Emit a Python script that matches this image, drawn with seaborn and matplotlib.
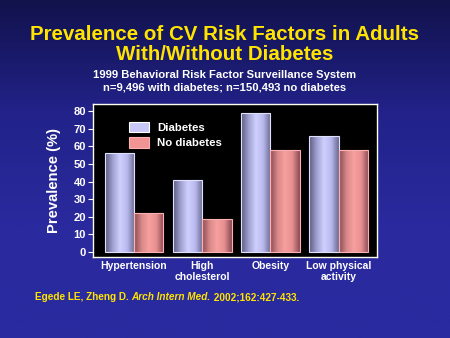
import numpy as np
import pandas as pd
import matplotlib
matplotlib.use("Agg")
import matplotlib.pyplot as plt
import seaborn as sns
from matplotlib.colors import LinearSegmentedColormap
from matplotlib.patches import Patch

categories = ["Hypertension", "High\ncholesterol", "Obesity", "Low physical\nactivity"]
groups = ["Diabetes", "No diabetes"]
diabetes = [56, 41, 79, 66]
no_diabetes = [22, 19, 58, 58]
yticks = [0, 10, 20, 30, 40, 50, 60, 70, 80]

df = pd.DataFrame({
    "category": categories * 2,
    "group": [groups[0]] * 4 + [groups[1]] * 4,
    "value": diabetes + no_diabetes,
})

sns.set_theme(style="white")
plt.rcParams["font.family"] = ["Liberation Sans", "DejaVu Sans"]

W, H = 450, 338
fig = plt.figure(figsize=(W / 100, H / 100), dpi=100)


def fy(py):
    return 1 - py / H


# slide background: dark navy at top fading to royal blue
bg = fig.add_axes([0, 0, 1, 1], zorder=-10)
grad = np.linspace(0, 1, 256)[:, None]
bg_cmap = LinearSegmentedColormap.from_list("bg", ["#12124c", "#22228a", "#2a2a9e", "#2a2aa0"])
bg.imshow(grad, aspect="auto", cmap=bg_cmap, extent=[0, 1, 0, 1], origin="upper")
bg.set_axis_off()

ax = fig.add_axes([93 / W, fy(257), (377 - 93) / W, (257 - 104) / H])
ax.set_facecolor("black")

palette = {"Diabetes": "#c8c8f8", "No diabetes": "#f09494"}
sns.barplot(data=df, x="category", y="value", hue="group", palette=palette,
            width=0.86, ax=ax, edgecolor="none", saturation=1, legend=False)

# cylinder shading on each bar
lav = LinearSegmentedColormap.from_list("lav", ["#5a5a80", "#a0a0d0", "#d0d0ff", "#b8b8ee", "#6a6a90"])
sal = LinearSegmentedColormap.from_list("sal", ["#8a4a55", "#d88888", "#f8a0a0", "#e89090", "#8a4a55"])
prof = np.linspace(0, 1, 64)[None, :]
bars = list(ax.patches)
for i, p in enumerate(bars):
    x0, y0 = p.get_x(), p.get_y()
    w, h = p.get_width(), p.get_height()
    if h <= 0:
        continue
    cmap = lav if i < 4 else sal
    edge = "#e0e0ff" if i < 4 else "#ffb0b0"
    im = ax.imshow(prof, cmap=cmap, aspect="auto", extent=[x0, x0 + w, y0, y0 + h],
                   zorder=3, interpolation="bilinear")
    im.set_clip_path(p)
    p.set_edgecolor(edge)
    p.set_linewidth(0.8)
    p.set_zorder(4)
    p.set_facecolor("none")

ax.set_xlim(-0.6, 3.56)
ax.set_ylim(-2.8, 84)
ax.set_yticks(yticks)
ax.set_yticklabels([str(t) for t in yticks], color="white", fontsize=8, fontweight="bold")
ax.set_xticks(range(4))
ax.set_xticklabels(categories, color="white", fontsize=7.5, fontweight="bold", linespacing=1.12)
ax.tick_params(axis="y", left=True, length=3.5, width=0.8, color="white", pad=1.5)
ax.tick_params(axis="x", bottom=False, length=0, pad=3.2)
ax.set_xlabel("")
ax.set_ylabel("Prevalence (%)", color="white", fontsize=10.6, fontweight="bold", labelpad=9)
for s in ax.spines.values():
    s.set_color("#fffff0")
    s.set_linewidth(1.0)

# legend
handles = [Patch(facecolor="#c8c8f8", edgecolor="#ffffff", linewidth=0.8),
           Patch(facecolor="#f09494", edgecolor="#ffb0b0", linewidth=0.8)]
leg = ax.legend(handles, groups, loc="upper left", bbox_to_anchor=(0.11, 0.915),
                frameon=False, fontsize=8.2, handlelength=1.8, handleheight=1.1,
                labelspacing=0.35, handletextpad=0.7, borderaxespad=0)
for t in leg.get_texts():
    t.set_color("white")
    t.set_fontweight("bold")

# titles and citation
gold = "#ffe400"
fig.text(0.5, fy(39.5), "Prevalence of CV Risk Factors in Adults", ha="center", va="baseline",
         color=gold, fontsize=14.8, fontweight="bold")
fig.text(0.5, fy(60.5), "With/Without Diabetes", ha="center", va="baseline",
         color=gold, fontsize=14.8, fontweight="bold")
fig.text(0.5, fy(78.5), "1999 Behavioral Risk Factor Surveillance System", ha="center",
         va="baseline", color="white", fontsize=8.1, fontweight="bold")
fig.text(0.5, fy(90.5), "n=9,496 with diabetes; n=150,493 no diabetes", ha="center",
         va="baseline", color="white", fontsize=8.1, fontweight="bold")

cy = fy(300)
cfs = 7.2
t1 = fig.text(35 / W, cy, "Egede LE, Zheng D. ", ha="left", va="baseline", color=gold,
              fontsize=cfs, fontweight="bold")
fig.canvas.draw()
r = fig.canvas.get_renderer()
bb = t1.get_window_extent(r)
t2 = fig.text(bb.x1 / fig.bbox.width, cy, "Arch Intern Med.", ha="left", va="baseline",
              color=gold, fontsize=cfs, fontweight="bold", style="italic")
bb2 = t2.get_window_extent(r)
fig.text(bb2.x1 / fig.bbox.width, cy, " 2002;162:427-433.", ha="left", va="baseline",
         color=gold, fontsize=cfs, fontweight="bold")

fig.savefig("out.png", dpi=100)
